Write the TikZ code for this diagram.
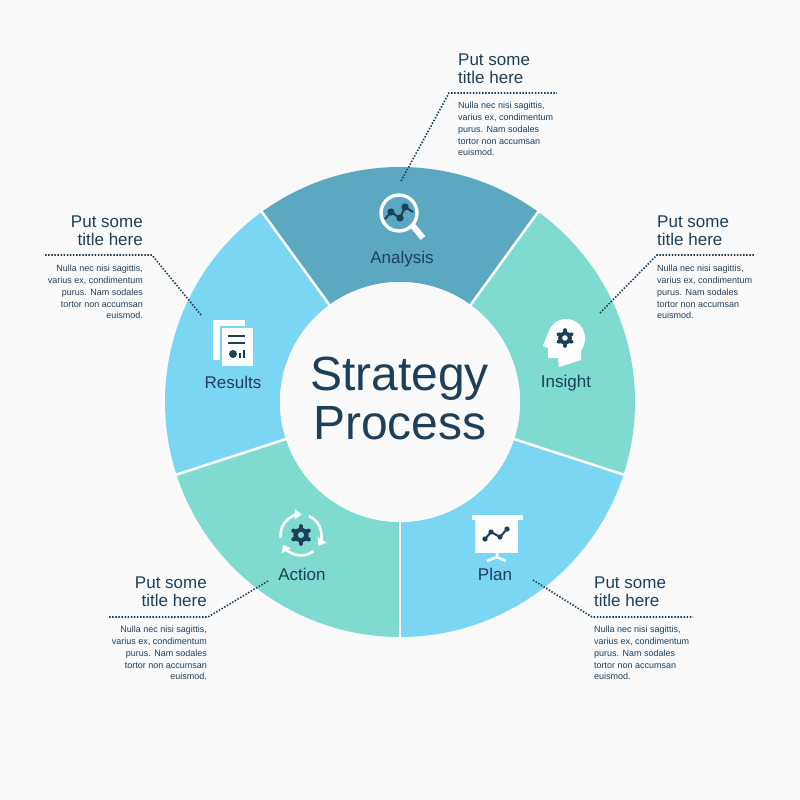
\documentclass[tikz,border=0pt]{standalone}
\usepackage{fontspec}
\setmainfont{Liberation Sans}
\usepackage{tikz}
\usetikzlibrary{calc}
\usetikzlibrary{arrows.meta}

\definecolor{navy}{HTML}{1D3F5A}
\definecolor{paper}{HTML}{FAFAFA}
\definecolor{deepblue}{HTML}{5BA8C0}
\definecolor{skyblue}{HTML}{7AD6F3}
\definecolor{mint}{HTML}{7FDBCF}

\tikzset{
  headtext/.style = {font=\fontsize{17}{18.4}\selectfont, text=navy, inner sep=0pt},
  bodytext/.style = {font=\fontsize{9}{11.8}\selectfont, text=navy, inner sep=0pt},
  steptext/.style = {font=\fontsize{17}{20}\selectfont, text=navy, inner sep=0pt},
  bigtext/.style = {font=\fontsize{48}{48}\selectfont, text=navy, anchor=base},
  leader/.style = {navy, line width=1.6pt, dash pattern=on 1.5pt off 1.6pt},
  iconline/.style = {navy, line width=2pt},
}
\newcommand{\headlines}[1]{\begin{tabular}{@{}#1@{}}Put some\\title here\end{tabular}}
\newcommand{\bodylines}[1]{\begin{tabular}{@{}#1@{}}Nulla nec nisi sagittis,\\varius ex, condimentum\\purus. Nam sodales\\tortor non accumsan\\euismod.\end{tabular}}
\newcommand{\gearat}[2]{
  \draw [navy, line width=0.42*#2] (#1) circle (0.55*#2);
  \foreach \a in {30,90,...,330}
    \draw [navy, line width=0.42*#2, line cap=round] ($(#1)+(\a:0.6*#2)$)--($(#1)+(\a:0.88*#2)$);
}

\begin{document}
\begin{tikzpicture} [x = 1pt, y = -1pt]
    \useasboundingbox (0,0) rectangle (800,800);
    \fill [paper] (0,0) rectangle (800,800);
    \coordinate (hub) at (400,402);
    % ring
    \foreach \from/\col in {234/deepblue,306/mint,18/skyblue,90/mint,162/skyblue}
      \fill [\col] ($(hub)+(\from:120)$) arc [start angle=\from, delta angle=72, radius=120]
        -- ($(hub)+(\from+72:235)$) arc [start angle=\from+72, delta angle=-72, radius=235] -- cycle;
    \foreach \from in {234,306,18,90,162}
      \draw [white, line width=2.5pt] ($(hub)+(\from:119)$)--($(hub)+(\from:236)$);
    \fill [paper] (hub) circle (120);
    \node (strategy) at (399.5,390) [bigtext] {Strategy};
    \node (process) at (400,439.5) [bigtext] {Process};
    % step names
    \node (analysis) at (402,259) [steptext] {Analysis};
    \node (insight) at (566,383) [steptext] {Insight};
    \node (plan) at (495,574) [steptext] {Plan};
    \node (action) at (302,574) [steptext] {Action};
    \node (results) at (233,382) [steptext] {Results};
    % captions
    \node (analysishead) at (458,71) [headtext, anchor=west] {\headlines{l}};
    \node (analysisbody) at (458,130) [bodytext, anchor=west] {\bodylines{l}};
    \node (insighthead) at (657,233) [headtext, anchor=west] {\headlines{l}};
    \node (insightbody) at (657,293) [bodytext, anchor=west] {\bodylines{l}};
    \node (planhead) at (594,594) [headtext, anchor=west] {\headlines{l}};
    \node (planbody) at (594,654) [bodytext, anchor=west] {\bodylines{l}};
    \node (actionhead) at (207,594) [headtext, anchor=east] {\headlines{r}};
    \node (actionbody) at (207,654) [bodytext, anchor=east] {\bodylines{r}};
    \node (resultshead) at (143,233) [headtext, anchor=east] {\headlines{r}};
    \node (resultsbody) at (143,293) [bodytext, anchor=east] {\bodylines{r}};
    % leaders
    \coordinate (analysistip) at (401,181);
    \coordinate (analysisbend) at (449,93);
    \coordinate (analysisend) at (557,93);
    \coordinate (insighttip) at (600,313);
    \coordinate (insightbend) at (657,255);
    \coordinate (insightend) at (755,255);
    \coordinate (plantip) at (533,580);
    \coordinate (planbend) at (592,617);
    \coordinate (planend) at (693,617);
    \coordinate (actiontip) at (268,581);
    \coordinate (actionbend) at (208,617);
    \coordinate (actionend) at (108,617);
    \coordinate (resultstip) at (201,315);
    \coordinate (resultsbend) at (152,255);
    \coordinate (resultsend) at (45,255);
    \foreach \n in {analysis,insight,plan,action,results}
      \draw [leader] (\n tip)--(\n bend)--(\n end);
    % magnifier
    \draw [white, line width=3.4pt] (399,213) circle (18);
    \draw [white, line width=6pt] (413,226)--(423,238);
    \draw [iconline] (385,219)--(391,212)--(400,218)--(405,207)--(413,212);
    \foreach \p in {(391,212),(400,218),(405,207)}
      \fill [navy] \p circle (3.6);
    % head
    \fill [white] (543,346)--(548,333) .. controls (551,324) and (558,319) .. (566,319)
      .. controls (577,319) and (585,328) .. (585,338) .. controls (585,344) and (583,348) .. (581,351)
      --(581,360)--(559,367)--(558,358)--(548,358)--(548,348)--cycle;
    \gearat{565,338}{9}
    % board
    \fill [white] (472,515) rectangle (523,520);
    \fill [white] (475,520) rectangle (518,553);
    \draw [white, line width=2.6pt] (497,553)--(497,557)--(487,561);
    \draw [white, line width=2.6pt] (497,557)--(506,561);
    \draw [iconline] (485,539)--(491,532)--(500,537)--(507,529);
    \foreach \p in {(485,539),(491,532),(500,537),(507,529)}
      \fill [navy] \p circle (2.6);
    % cycle
    \foreach \from in {172,292,52}
      \draw [white, line width=2.6pt, -{Triangle[length=7pt,width=10pt]}]
        ($(301,535)+(\from:20.5)$) arc [start angle=\from, delta angle=100, radius=20.5];
    \gearat{301,535}{10}
    % pages
    \fill [white] (213,320) rectangle (245,360);
    \filldraw [white, draw=skyblue, line width=1.2pt] (221,327) rectangle (254,367);
    \draw [iconline] (228,336)--(245,336);
    \draw [iconline] (228,343)--(245,343);
    \fill [navy] (233,354) circle (4);
    \draw [iconline] (240,353)--(240,358);
    \draw [iconline] (244,350)--(244,358);
  \end{tikzpicture}
\end{document}
